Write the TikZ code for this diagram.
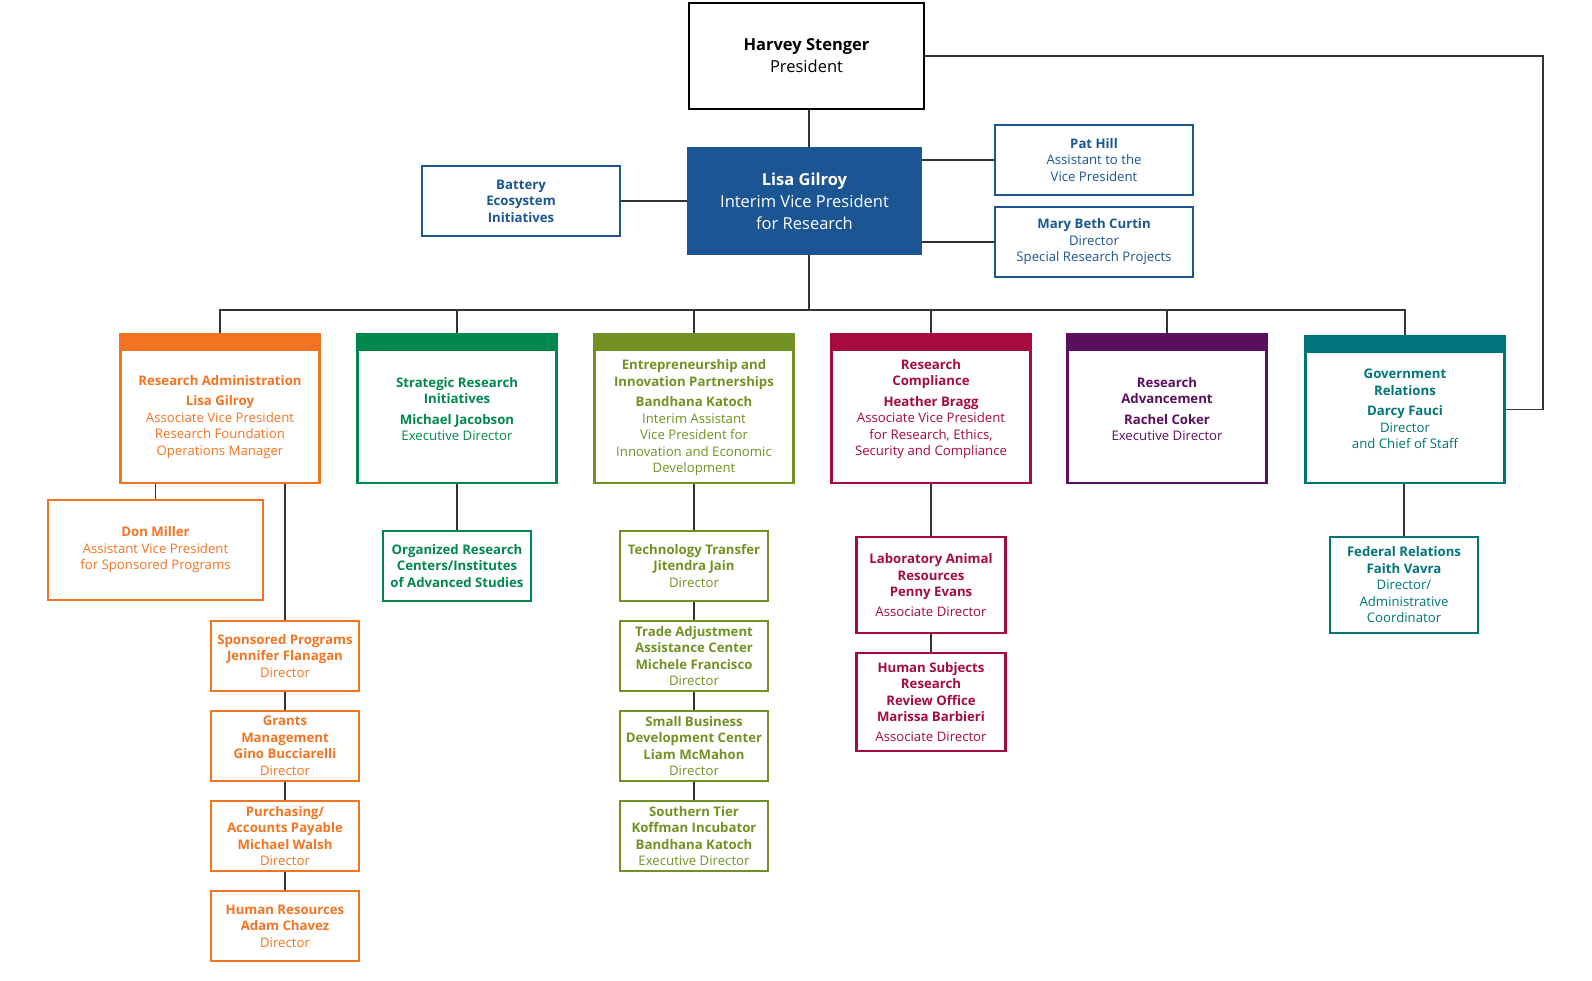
\documentclass[tikz,border=0pt]{standalone}
\usepackage{fontspec}
\setmainfont{Open Sans}
\usetikzlibrary{calc}
\definecolor{cor}{HTML}{F47321}
\definecolor{cgr}{HTML}{00874E}
\definecolor{col}{HTML}{739122}
\definecolor{ccr}{HTML}{A50B3E}
\definecolor{cpu}{HTML}{5A0F5E}
\definecolor{cte}{HTML}{00747A}
\definecolor{cbl}{HTML}{1B5593}
\definecolor{cln}{HTML}{333333}
\begin{document}
\begin{tikzpicture}[x=1pt,y=-1pt,
 box/.style={draw=#1,text=#1,line width=2.5pt,inner sep=0pt,align=center,font=\fontsize{13.2}{16.5}\selectfont},
 sz/.style 2 args={minimum width=#1,minimum height=#2},
 ct/.style={text=#1,align=center,font=\fontsize{13.2}{16.5}\selectfont},
 ln/.style={draw=cln,line width=1.2pt}]
\useasboundingbox (0,0) rectangle (1592,981);
% top
\node[box=black,sz={235}{106},font=\fontsize{16.5}{22}\selectfont] (pres) at (806.5,56) {\textbf{Harvey Stenger}\\President};
\node[box=cbl,fill=cbl,text=white,sz={233}{106},font=\fontsize{16.5}{22}\selectfont] (gil) at (804.5,201) {\textbf{Lisa Gilroy}\\Interim Vice President\\for Research};
\node[box=cbl,sz={198}{70}] (bat) at (521,201) {\textbf{Battery}\\\textbf{Ecosystem}\\\textbf{Initiatives}};
\node[box=cbl,sz={198}{70}] (pat) at (1094,160) {\textbf{Pat Hill}\\Assistant to the\\Vice President};
\node[box=cbl,sz={198}{70}] (mbc) at (1094,242) {\textbf{Mary Beth Curtin}\\Director\\Special Research Projects};
% columns
\foreach \n/\c/\x in {ra/cor/220,sr/cgr/457,eip/col/694,rc/ccr/931,rad/cpu/1167}{
 \node[box=\c,sz={199}{149}] (\n) at (\x,408.5) {};
 \fill[\c] (\n.north west) rectangle ($(\n.north east)+(0,18)$);}
\node[box=cte,sz={199}{147}] (gr) at (1405,409.5) {};
\fill[cte] (gr.north west) rectangle ($(gr.north east)+(0,18)$);
\node[ct=cor] (rat) at (220,417) {\textbf{Research Administration}\\[4pt]\textbf{Lisa Gilroy}\\Associate Vice President\\Research Foundation\\Operations Manager};
\node[ct=cgr] (srt) at (457,409) {\textbf{Strategic Research}\\\textbf{Initiatives}\\[4pt]\textbf{Michael Jacobson}\\Executive Director};
\node[ct=col] (eipt) at (694,418) {\textbf{Entrepreneurship and}\\\textbf{Innovation Partnerships}\\[4pt]\textbf{Bandhana Katoch}\\Interim Assistant\\Vice President for\\Innovation and Economic\\Development};
\node[ct=ccr] (rct) at (931,409) {\textbf{Research}\\\textbf{Compliance}\\[4pt]\textbf{Heather Bragg}\\Associate Vice President\\for Research, Ethics,\\Security and Compliance};
\node[ct=cpu] (radt) at (1167,409) {\textbf{Research}\\\textbf{Advancement}\\[4pt]\textbf{Rachel Coker}\\Executive Director};
\node[ct=cte] (grt) at (1405,409) {\textbf{Government}\\\textbf{Relations}\\[4pt]\textbf{Darcy Fauci}\\Director\\and Chief of Staff};
% sub boxes
\node[box=cor,sz={215}{100}] (don) at (155.5,550) {\textbf{Don Miller}\\Assistant Vice President\\for Sponsored Programs};
\node[box=cor,sz={148}{70}] (sp) at (285,656) {\textbf{Sponsored Programs}\\\textbf{Jennifer Flanagan}\\Director};
\node[box=cor,sz={148}{70}] (gm) at (285,746) {\textbf{Grants}\\\textbf{Management}\\\textbf{Gino Bucciarelli}\\Director};
\node[box=cor,sz={148}{70}] (pa) at (285,836) {\textbf{Purchasing/}\\\textbf{Accounts Payable}\\\textbf{Michael Walsh}\\Director};
\node[box=cor,sz={148}{70}] (hr) at (285,926) {\textbf{Human Resources}\\\textbf{Adam Chavez}\\Director};
\node[box=cgr,sz={148}{70}] (org) at (457,566) {\textbf{Organized Research}\\\textbf{Centers/Institutes}\\\textbf{of Advanced Studies}};
\node[box=col,sz={148}{70}] (tt) at (694,566) {\textbf{Technology Transfer}\\\textbf{Jitendra Jain}\\Director};
\node[box=col,sz={148}{70}] (ta) at (694,656) {\textbf{Trade Adjustment}\\\textbf{Assistance Center}\\\textbf{Michele Francisco}\\Director};
\node[box=col,sz={148}{70}] (sb) at (694,746) {\textbf{Small Business}\\\textbf{Development Center}\\\textbf{Liam McMahon}\\Director};
\node[box=col,sz={148}{70}] (st) at (694,836) {\textbf{Southern Tier}\\\textbf{Koffman Incubator}\\\textbf{Bandhana Katoch}\\Executive Director};
\node[box=ccr,sz={149}{96}] (la) at (931,585) {\textbf{Laboratory Animal}\\\textbf{Resources}\\\textbf{Penny Evans}\\[3pt]Associate Director};
\node[box=ccr,sz={149}{98}] (hs) at (931,702) {\textbf{Human Subjects}\\\textbf{Research}\\\textbf{Review Office}\\\textbf{Marissa Barbieri}\\[3pt]Associate Director};
\node[box=cte,sz={148}{96}] (fr) at (1404,585) {\textbf{Federal Relations}\\\textbf{Faith Vavra}\\Director/\\Administrative\\Coordinator};
% connectors
\coordinate (bus) at (809,310);
\draw[ln] (pres.south -| bus) -- (gil.north -| bus);
\draw[ln] (gil.south -| bus) -- (bus);
\draw[ln] (ra.north) |- (bus) -| (gr.north);
\foreach \n in {sr,eip,rc,rad} \draw[ln] (\n.north) -- (\n.north |- bus);
\draw[ln] (bat.east) -- (gil.west);
\draw[ln] (gil.east |- pat.west) -- (pat.west);
\draw[ln] (gil.east |- mbc.west) -- (mbc.west);
\coordinate (rr) at (1543,56);
\draw[ln] (pres.east) -- (rr) |- (gr.east);
\draw[ln] (ra.south -| don.north) -- (don.north);
\draw[ln] (ra.south -| sp.north) -- (sp.north);
\draw[ln] (sp) -- (gm); \draw[ln] (gm) -- (pa); \draw[ln] (pa) -- (hr);
\draw[ln] (sr.south) -- (org.north);
\draw[ln] (eip.south) -- (tt.north);
\draw[ln] (tt) -- (ta); \draw[ln] (ta) -- (sb); \draw[ln] (sb) -- (st);
\draw[ln] (rc.south) -- (la.north); \draw[ln] (la) -- (hs);
\draw[ln] (gr.south -| fr.north) -- (fr.north);
\end{tikzpicture}
\end{document}
